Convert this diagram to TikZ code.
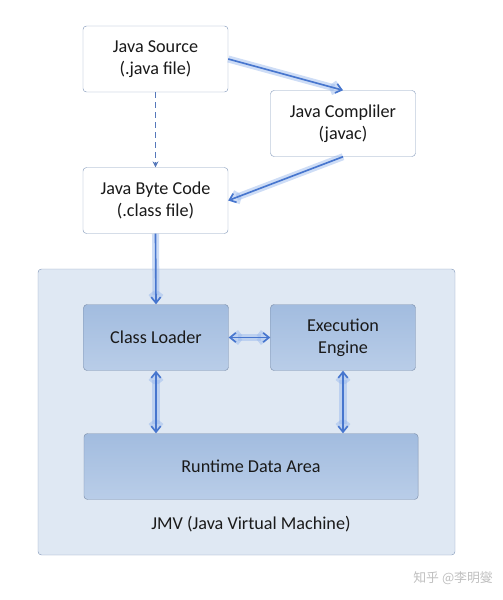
\documentclass[tikz,border=0pt]{standalone}
\usepackage{fontspec}
\setmainfont{Carlito}
\newfontfamily\cjk{Noto Sans CJK SC}
\usetikzlibrary{arrows.meta}

\definecolor{boxline}{HTML}{8A9FBE}
\definecolor{jvmfill}{HTML}{DFE8F3}
\definecolor{innertop}{HTML}{A2BCDF}
\definecolor{innerbot}{HTML}{B9CDE8}
\definecolor{flow}{HTML}{4776CE}
\definecolor{glow}{HTML}{9DBBEE}
\definecolor{txt}{HTML}{1A1A1A}

\tikzset{
	srcbox/.style = {draw = boxline, fill = white, rounded corners = 3pt, align = center,
		minimum width = 4.35cm, minimum height = 1.98cm, text = txt, font = \fontsize{15.5}{18.5}\selectfont},
	jvmbox/.style = {srcbox, draw = boxline!90!black, top color = innertop, bottom color = innerbot},
	flowline/.style = {draw = flow, line width = 1.4pt, -{Straight Barb[length = 5pt, width = 8pt]},
		preaction = {draw = glow, line width = 6pt, opacity = 0.5}},
	bothline/.style = {flowline, {Straight Barb[length = 5pt, width = 8pt]}-{Straight Barb[length = 5pt, width = 8pt]}}
}

\begin{document}
\begin{tikzpicture}[x = 0.03cm, y = -0.03cm]
	%	canvas
	\useasboundingbox (0, 0) rectangle (502, 600);
	
	%	JVM container
	\draw[draw = boxline, fill = jvmfill, rounded corners = 3pt] (38, 269) rectangle (455, 555);
	\node[text = txt, font = \fontsize{15.5}{18.5}\selectfont] (jvmlabel) at (251, 524) {JMV (Java Virtual Machine)};
	
	%	compile stage
	\node[srcbox] (source) at (155.5, 59) {Java Source\\(.java file)};
	\node[srcbox] (javac) at (343, 123.5) {Java Compliler\\(javac)};
	\node[srcbox] (bytecode) at (155.5, 200.5) {Java Byte Code\\(.class file)};
	
	%	inside the JVM
	\node[jvmbox] (loader) at (156, 337.5) {Class Loader};
	\node[jvmbox] (engine) at (343, 337.5) {Execution\\Engine};
	\node[jvmbox, minimum width = 10.02cm] (runtime) at (251, 466.5) {Runtime Data Area};
	
	%	connectors
	\draw[flowline] (source.east) -- (javac.north);
	\draw[flowline] (javac.south) -- (bytecode.east);
	\draw[draw = flow!75!gray, line width = 1.2pt, dash pattern = on 5pt off 3.5pt, -{Stealth[length = 5pt, width = 5pt]}] (source.south) -- (bytecode.north);
	\draw[flowline] (bytecode.south) -- (loader.north);
	\draw[bothline] (loader.east) -- (engine.west);
	\draw[bothline] (loader.south) -- (loader.south |- runtime.north);
	\draw[bothline] (engine.south) -- (engine.south |- runtime.north);
	
	%	watermark
	\node[text = black!25, font = \cjk\fontsize{11}{13}\selectfont, anchor = east] (mark) at (497, 578) {知乎 @李明燮};
\end{tikzpicture}
\end{document}
